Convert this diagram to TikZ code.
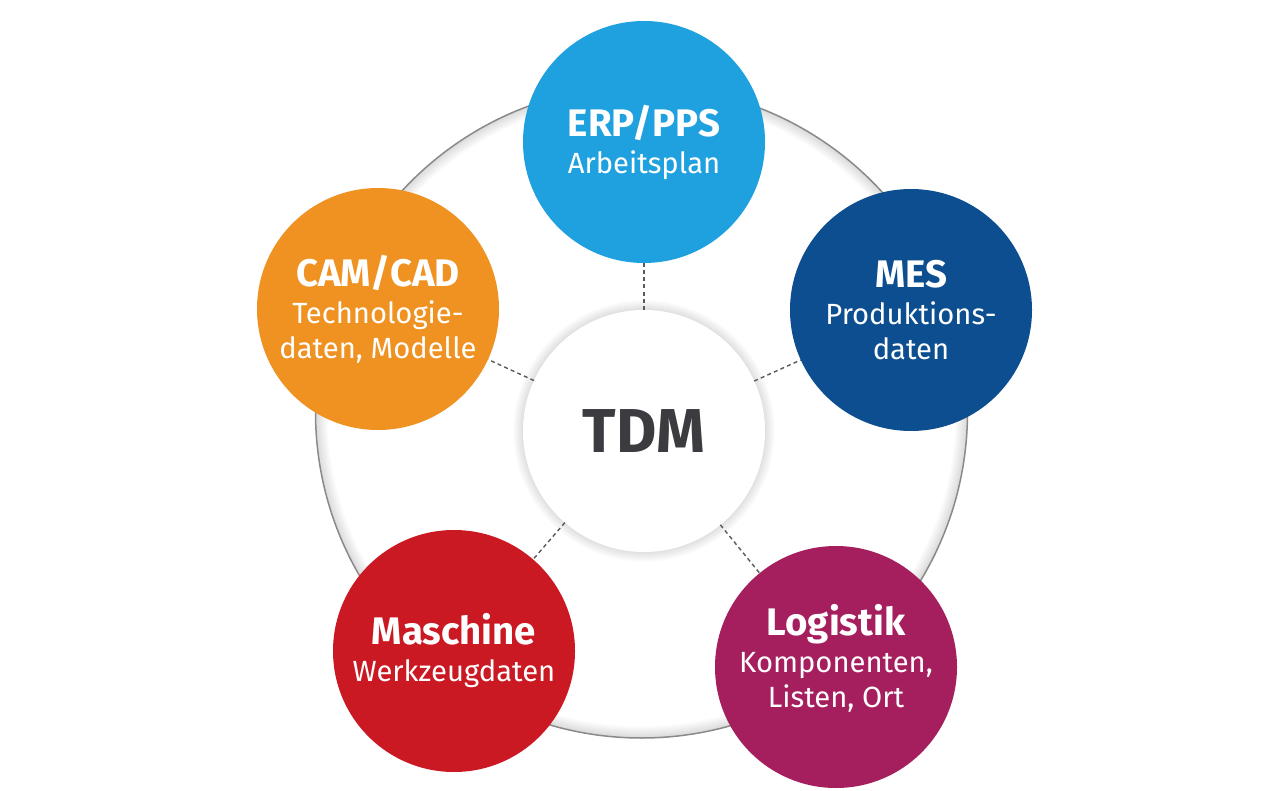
\documentclass[tikz,border=0pt]{standalone}
\usepackage{fontspec}
\setmainfont{Fira Sans}
\definecolor{erp}{HTML}{1FA0DF}
\definecolor{mes}{HTML}{0C4E8F}
\definecolor{cam}{HTML}{EF9222}
\definecolor{masch}{HTML}{CB1923}
\definecolor{logi}{HTML}{A51F5E}
\definecolor{tdmtext}{HTML}{3B3B40}
\definecolor{ringline}{HTML}{8A8A8A}
\definecolor{dashc}{HTML}{5A5A5A}
\newcommand{\ttl}{\fontsize{19.2}{19}\selectfont\bfseries}
\begin{document}
\begin{tikzpicture}[x=0.5pt,y=-0.5pt,
  sat/.style={circle, minimum size=121pt, inner sep=0pt, outer sep=0pt, text=white,
    align=center, font=\fontsize{14.6}{17.5}\selectfont},
  hub/.style={circle, minimum size=121pt, inner sep=0pt, outer sep=0pt, fill=white,
    text=tdmtext, font=\fontsize{31}{31}\selectfont\bfseries},
  link/.style={draw=dashc, line width=0.7pt, dash pattern=on 2pt off 1.6pt}]
\useasboundingbox (0,0) rectangle (1280,791);
% outer ring: white disc with inner shadow and thin grey outline
\fill[white] (641.5,412) circle [radius=326];
\begin{scope}
  \clip (641.5,412) circle [radius=326];
  \foreach \w in {2,4,...,24} {
    \draw[black, opacity=0.010, line width=\w*0.5pt] (641.5,412) circle [radius=326];
  }
\end{scope}
\draw[ringline, line width=0.75pt] (641.5,412) circle [radius=326];
% soft shadow around the hub
\foreach \w in {2,4,...,20} {
  \draw[black, opacity=0.010, line width=\w*0.5pt] (644,431) circle [radius=121];
}
\node[hub] (tdm) at (644,431) {TDM};
% satellites
\node[sat, fill=erp]   (erp)   at (644,142) {{\ttl ERP/PPS}\\[1pt]Arbeitsplan};
\node[sat, fill=mes]   (mes)   at (911,310) {{\ttl MES}\\[1pt]Produktions-\\daten};
\node[sat, fill=logi]  (logi)  at (836,667) {{\ttl Logistik}\\[1pt]Komponenten,\\Listen, Ort\\[-6.5pt]\mbox{}};
\node[sat, fill=masch] (masch) at (454,651) {{\ttl Maschine}\\[1pt]Werkzeugdaten};
\node[sat, fill=cam]   (cam)   at (378,309) {{\ttl CAM/CAD}\\[1pt]Technologie-\\daten, Modelle};
% dashed connectors
\draw[link] (tdm) -- (erp);
\draw[link] (tdm) -- (mes);
\draw[link] (tdm) -- (logi);
\draw[link] (tdm) -- (masch);
\draw[link] (tdm) -- (cam);
\end{tikzpicture}
\end{document}
